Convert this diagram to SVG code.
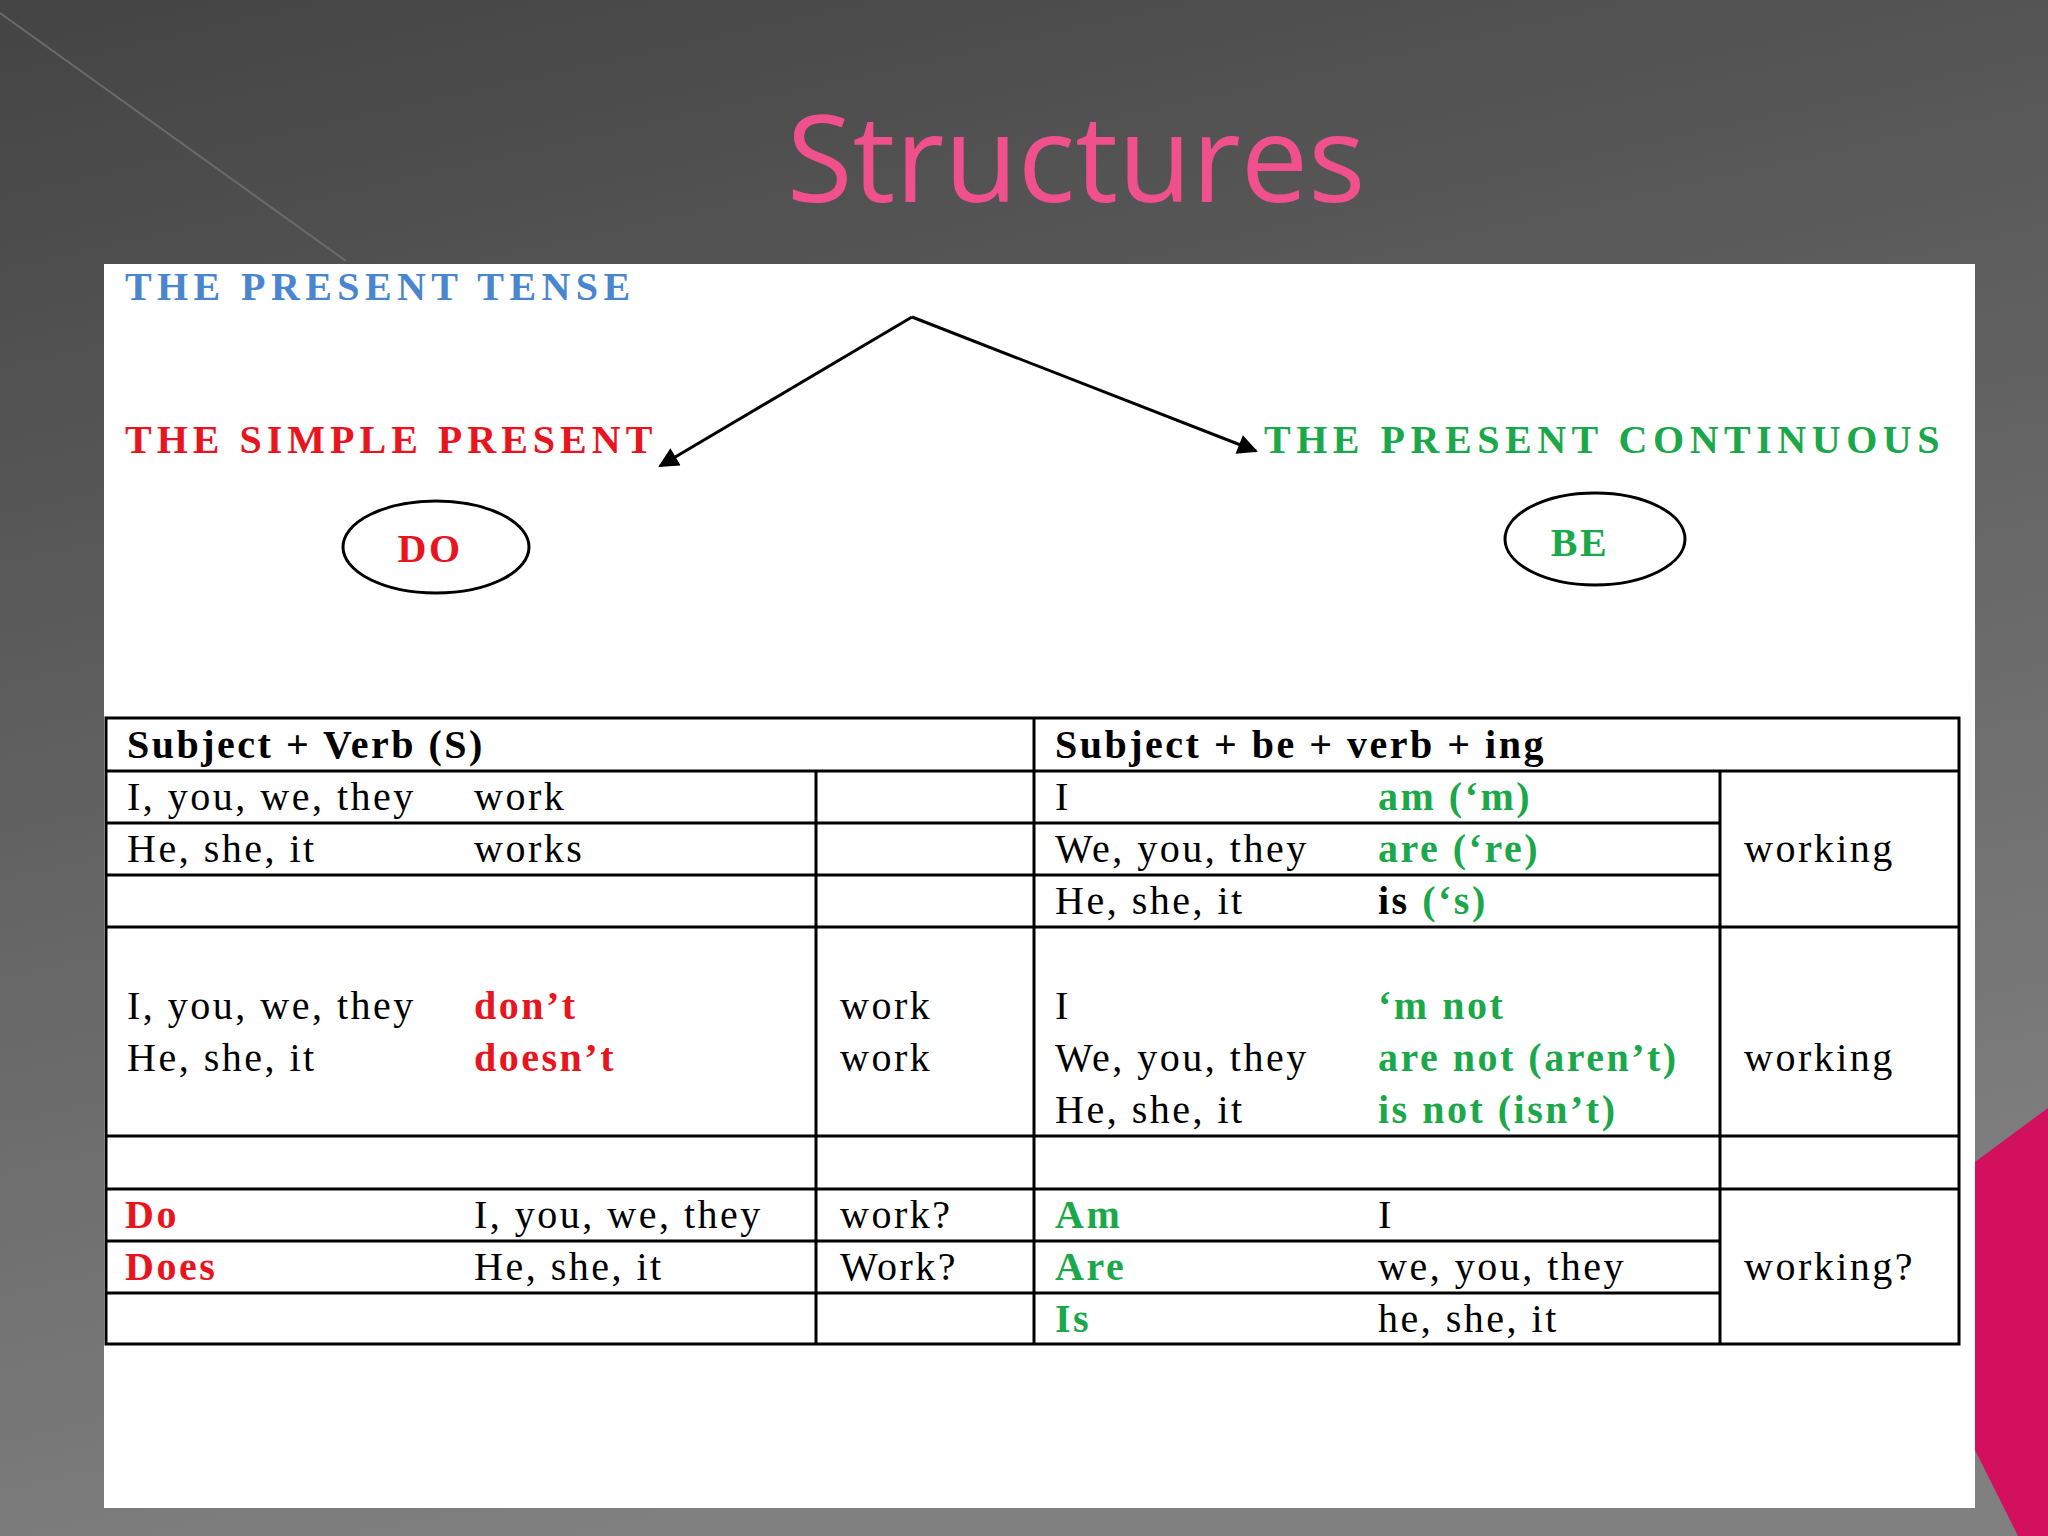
<svg xmlns="http://www.w3.org/2000/svg" width="2048" height="1536" viewBox="0 0 2048 1536">
<defs>
<linearGradient id="bg" x1="0" y1="0" x2="0.3" y2="1"><stop offset="0" stop-color="#444"/><stop offset="1" stop-color="#808080"/></linearGradient>
<marker id="ah" viewBox="0 0 10 10" refX="9" refY="5" markerWidth="24" markerHeight="20" orient="auto" markerUnits="userSpaceOnUse"><path d="M0,0 L10,5 L0,10 z" fill="#000"/></marker>
<style>
.t{font-family:"Liberation Serif",serif;font-size:40px;fill:#000;letter-spacing:2.5px}
.b{font-weight:bold}
.r{fill:#e8141e}.g{fill:#1aa84a}.bl{fill:#4a86d0}
.ln{stroke:#000;stroke-width:3;fill:none}
</style>
</defs>
<rect width="2048" height="1536" fill="url(#bg)"/>
<line x1="0" y1="13" x2="346" y2="261" stroke="#6a6a6a" stroke-width="2"/>
<polygon points="2048,1108 1975,1162 1975,1450 2018,1536 2048,1536" fill="#d3105e"/>
<text x="1076" y="202" text-anchor="middle" font-family="Open Sans,sans-serif" font-size="120" fill="#f0508c">Structures</text>
<rect x="104" y="264" width="1871" height="1244" fill="#fff"/>
<g id="title"><text class="t b bl" x="125" y="300" font-size="40" style="letter-spacing:5.4px">THE PRESENT TENSE</text></g>
<g id="simple"><text class="t b r" x="125" y="453" font-size="42" style="letter-spacing:5px">THE SIMPLE PRESENT</text></g>
<g id="continuous"><text class="t b g" x="1264" y="453" font-size="42" textLength="678">THE PRESENT CONTINUOUS</text></g>
<g id="connectors">
<path class="ln" d="M912,317 L660,466" marker-end="url(#ah)"/>
<path class="ln" d="M912,317 L1256,451" marker-end="url(#ah)"/>
</g>
<g id="do"><ellipse cx="436" cy="547" rx="93" ry="46" class="ln" stroke-width="2"/><text class="t b r" x="430" y="562" text-anchor="middle" font-size="42">DO</text></g>
<g id="be"><ellipse cx="1595" cy="539" rx="90" ry="46" class="ln" stroke-width="2"/><text class="t b g" x="1580" y="556" text-anchor="middle" font-size="42">BE</text></g>
<g id="table">
<rect x="106" y="718" width="1853" height="626" class="ln"/>
<path class="ln" d="M106,771H1959 M106,823H1720 M106,875H1720 M106,927H1959 M106,1136H1959 M106,1189H1959 M106,1241H1720 M106,1293H1720
M1034,718V1344 M816,771V1344 M1720,771V1344"/>
<text class="t b" x="127" y="758">Subject + Verb (S)</text>
<text class="t b" x="1055" y="758">Subject + be + verb + ing</text>
<text class="t" x="127" y="810">I, you, we, they</text><text class="t" x="474" y="810">work</text>
<text class="t" x="127" y="862">He, she, it</text><text class="t" x="474" y="862">works</text>
<text class="t" x="1055" y="810">I</text><text class="t b g" x="1378" y="810">am (‘m)</text>
<text class="t" x="1055" y="862">We, you, they</text><text class="t b g" x="1378" y="862">are (‘re)</text>
<text class="t" x="1055" y="914">He, she, it</text><text class="t b g" x="1378" y="914"><tspan fill="#000">is</tspan> (‘s)</text>
<text class="t" x="1744" y="862">working</text>
<text class="t" x="127" y="1019">I, you, we, they</text><text class="t b r" x="474" y="1019">don’t</text><text class="t" x="840" y="1019">work</text>
<text class="t" x="127" y="1071">He, she, it</text><text class="t b r" x="474" y="1071">doesn’t</text><text class="t" x="840" y="1071">work</text>
<text class="t" x="1055" y="1019">I</text><text class="t b g" x="1378" y="1019">‘m not</text>
<text class="t" x="1055" y="1071">We, you, they</text><text class="t b g" x="1378" y="1071">are not (aren’t)</text>
<text class="t" x="1055" y="1123">He, she, it</text><text class="t b g" x="1378" y="1123">is not  (isn’t)</text>
<text class="t" x="1744" y="1071">working</text>
<text class="t b r" x="125" y="1228">Do</text><text class="t" x="474" y="1228">I, you, we, they</text><text class="t" x="840" y="1228">work?</text>
<text class="t b r" x="125" y="1280">Does</text><text class="t" x="474" y="1280">He, she, it</text><text class="t" x="840" y="1280">Work?</text>
<text class="t b g" x="1055" y="1228">Am</text><text class="t" x="1378" y="1228">I</text>
<text class="t b g" x="1055" y="1280">Are</text><text class="t" x="1378" y="1280">we, you, they</text>
<text class="t b g" x="1055" y="1332">Is</text><text class="t" x="1378" y="1332">he, she, it</text>
<text class="t" x="1744" y="1280">working?</text>
</g>
</svg>
